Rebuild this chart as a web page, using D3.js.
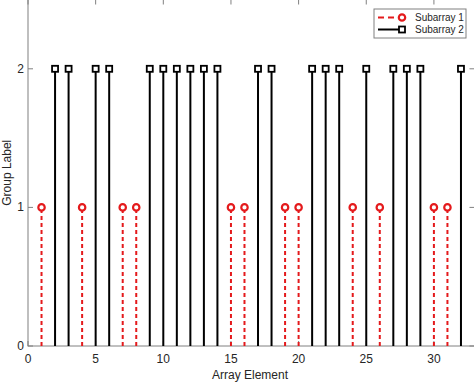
<!DOCTYPE html>
<html>
<head>
<meta charset="utf-8">
<script src="https://cdn.jsdelivr.net/npm/d3@7"></script>
<style>
  body { margin: 0; background: #fff; }
  text { font-family: "Liberation Sans", Arial, sans-serif; fill: #262626; }
</style>
</head>
<body>
<svg class="stem_chart" width="474" height="382"></svg>
<script>
// element indices per group
var sub1 = [1, 4, 7, 8, 15, 16, 19, 20, 24, 26, 30, 31];
var sub2 = [2, 3, 5, 6, 9, 10, 11, 12, 13, 14, 17, 18, 21, 22, 23, 25, 27, 28, 29, 32];
var label1 = 1, label2 = 2;
var xTicks = [0, 5, 10, 15, 20, 25, 30];
var yTicks = [0, 1, 2];
var seriesNames = ["Subarray 1", "Subarray 2"];

var svg = d3.select(".stem_chart");

var x = d3.scaleLinear()
    .domain([0, 33])
    .range([28, 474.5]);

var y = d3.scaleLinear()
    .domain([0, 2.5])
    .range([346, -0.5]);

var red = "#e41a1c", black = "#000";

// box + ticks
var axisColor = "#808080";
var g = svg.append("g");

g.append("rect")
    .attr("x", x(0)).attr("y", y(2.5))
    .attr("width", x(33) - x(0)).attr("height", y(0) - y(2.5))
    .attr("fill", "none").attr("stroke", axisColor).attr("stroke-width", 1);

xTicks.forEach(function (t) {
    g.append("line").attr("x1", x(t)).attr("x2", x(t))
        .attr("y1", y(0)).attr("y2", y(0) - 5).attr("stroke", axisColor);
    g.append("line").attr("x1", x(t)).attr("x2", x(t))
        .attr("y1", y(2.5)).attr("y2", y(2.5) + 5).attr("stroke", axisColor);
    g.append("text").attr("x", x(t)).attr("y", y(0) + 17)
        .attr("text-anchor", "middle").attr("font-size", 12).text(t);
});
yTicks.forEach(function (t) {
    g.append("line").attr("x1", x(0)).attr("x2", x(0) + 5)
        .attr("y1", y(t)).attr("y2", y(t)).attr("stroke", axisColor);
    g.append("line").attr("x1", x(33)).attr("x2", x(33) - 5)
        .attr("y1", y(t)).attr("y2", y(t)).attr("stroke", axisColor);
    g.append("text").attr("x", x(0) - 4).attr("y", y(t) + 4)
        .attr("text-anchor", "end").attr("font-size", 12).text(t);
});

svg.append("text")
    .attr("x", 250).attr("y", 379)
    .attr("text-anchor", "middle").attr("font-size", 12)
    .text("Array Element");

svg.append("text")
    .attr("transform", "translate(11," + y(1.25) + ") rotate(-90)")
    .attr("text-anchor", "middle").attr("font-size", 12)
    .text("Group Label");

// stems
svg.selectAll(".stem1")
    .data(sub1).enter().append("line")
    .attr("class", "stem1")
    .attr("x1", function (d) { return x(d); })
    .attr("x2", function (d) { return x(d); })
    .attr("y1", y(0)).attr("y2", y(label1))
    .attr("stroke", red).attr("stroke-width", 2)
    .attr("stroke-dasharray", "4,3");

svg.selectAll(".stem2")
    .data(sub2).enter().append("line")
    .attr("class", "stem2")
    .attr("x1", function (d) { return x(d); })
    .attr("x2", function (d) { return x(d); })
    .attr("y1", y(0)).attr("y2", y(label2))
    .attr("stroke", black).attr("stroke-width", 2);

svg.selectAll(".mk1")
    .data(sub1).enter().append("circle")
    .attr("class", "mk1")
    .attr("cx", function (d) { return x(d); })
    .attr("cy", y(label1))
    .attr("r", 3.2)
    .attr("fill", "#fff").attr("stroke", red).attr("stroke-width", 2.2);

svg.selectAll(".mk2")
    .data(sub2).enter().append("rect")
    .attr("class", "mk2")
    .attr("x", function (d) { return x(d) - 3; })
    .attr("y", y(label2) - 3)
    .attr("width", 6).attr("height", 6)
    .attr("fill", "#fff").attr("stroke", black).attr("stroke-width", 1.8);

// legend
var lg = svg.append("g").attr("transform", "translate(374,9)");
lg.append("rect").attr("width", 92).attr("height", 29)
    .attr("fill", "#fff").attr("stroke", axisColor);

lg.append("line").attr("x1", 4).attr("x2", 26).attr("y1", 8.5).attr("y2", 8.5)
    .attr("stroke", red).attr("stroke-width", 2).attr("stroke-dasharray", "6,4");
lg.append("circle").attr("cx", 28).attr("cy", 8.5).attr("r", 3.2)
    .attr("fill", "#fff").attr("stroke", red).attr("stroke-width", 2.2);
lg.append("text").attr("x", 41).attr("y", 12).attr("font-size", 10).text(seriesNames[0]);

lg.append("line").attr("x1", 4).attr("x2", 26).attr("y1", 20.5).attr("y2", 20.5)
    .attr("stroke", black).attr("stroke-width", 2);
lg.append("rect").attr("x", 25).attr("y", 17.5).attr("width", 6).attr("height", 6)
    .attr("fill", "#fff").attr("stroke", black).attr("stroke-width", 1.8);
lg.append("text").attr("x", 41).attr("y", 24).attr("font-size", 10).text(seriesNames[1]);
</script>
</body>
</html>
